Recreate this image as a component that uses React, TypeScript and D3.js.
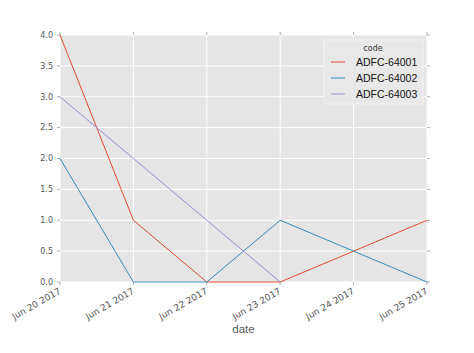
import { useEffect, useRef } from "react";
import * as d3 from "d3";

const dates = ["2017-06-20", "2017-06-21", "2017-06-22", "2017-06-23", "2017-06-24", "2017-06-25"];
const codes = ["ADFC-64001", "ADFC-64002", "ADFC-64003"];
const colors = ["#E24A33", "#348ABD", "#988ED5"];

// [date, value] per code
const series64001: [string, number][] = [
  ["2017-06-20", 4],
  ["2017-06-21", 1],
  ["2017-06-22", 0],
  ["2017-06-23", 0],
  ["2017-06-25", 1],
];
const series64002: [string, number][] = [
  ["2017-06-20", 2],
  ["2017-06-21", 0],
  ["2017-06-22", 0],
  ["2017-06-23", 1],
  ["2017-06-25", 0],
];
const series64003: [string, number][] = [
  ["2017-06-20", 3],
  ["2017-06-23", 0],
];
const yTicks = [0, 0.5, 1, 1.5, 2, 2.5, 3, 3.5, 4];

const width = 474;
const height = 353;
const marginTop = 35;
const marginRight = 47;
const marginBottom = 71;
const marginLeft = 60;

export default function App() {
  const ref = useRef<SVGSVGElement>(null);

  useEffect(() => {
    if (!ref.current) return;
    const svg = d3.select(ref.current);
    svg.selectAll("*").remove();

    const parse = d3.timeParse("%Y-%m-%d");
    const x = d3
      .scaleTime()
      .domain([parse(dates[0])!, parse(dates[dates.length - 1])!])
      .range([marginLeft, width - marginRight]);
    const y = d3
      .scaleLinear()
      .domain([0, 4])
      .range([height - marginBottom, marginTop]);

    const x0 = marginLeft;
    const x1 = width - marginRight;
    const y0 = height - marginBottom;
    const y1 = marginTop;

    svg.append("rect").attr("x", x0).attr("y", y1).attr("width", x1 - x0).attr("height", y0 - y1).attr("fill", "#e5e5e5");

    // grid
    const grid = svg.append("g").attr("stroke", "#ffffff").attr("stroke-width", 1);
    dates.forEach((d) => {
      const px = x(parse(d)!);
      grid.append("line").attr("x1", px).attr("x2", px).attr("y1", y1).attr("y2", y0);
    });
    yTicks.forEach((t) => {
      grid.append("line").attr("x1", x0).attr("x2", x1).attr("y1", y(t)).attr("y2", y(t));
    });

    // tick marks on all sides
    const ticks = svg.append("g").attr("stroke", "#999").attr("stroke-width", 0.8);
    dates.forEach((d) => {
      const px = x(parse(d)!);
      ticks.append("line").attr("x1", px).attr("x2", px).attr("y1", y0).attr("y2", y0 + 3);
      ticks.append("line").attr("x1", px).attr("x2", px).attr("y1", y1).attr("y2", y1 - 3);
    });
    yTicks.forEach((t) => {
      ticks.append("line").attr("x1", x0 - 3).attr("x2", x0).attr("y1", y(t)).attr("y2", y(t));
      ticks.append("line").attr("x1", x1).attr("x2", x1 + 3).attr("y1", y(t)).attr("y2", y(t));
    });

    // y labels
    svg
      .append("g")
      .selectAll("text")
      .data(yTicks)
      .join("text")
      .attr("x", x0 - 7)
      .attr("y", (t) => y(t))
      .attr("dy", "0.35em")
      .attr("text-anchor", "end")
      .attr("font-family", "DejaVu Sans")
      .attr("font-size", 8)
      .attr("fill", "#555")
      .text((t) => d3.format(".1f")(t));

    // x labels
    const fmt = d3.timeFormat("%b %d %Y");
    svg
      .append("g")
      .selectAll("text")
      .data(dates)
      .join("text")
      .attr("transform", (d) => `translate(${x(parse(d)!) - 2},${y0 + 5}) rotate(-30)`)
      .attr("text-anchor", "end")
      .attr("dy", "0.75em")
      .attr("font-family", "DejaVu Sans")
      .attr("font-size", 9)
      .attr("fill", "#555")
      .text((d) => fmt(parse(d)!));

    svg
      .append("text")
      .attr("x", (x0 + x1) / 2)
      .attr("y", 333)
      .attr("text-anchor", "middle")
      .attr("font-family", "Liberation Sans")
      .attr("font-size", 11.5)
      .attr("fill", "#555")
      .text("date");

    // lines
    const line = d3
      .line<[string, number]>()
      .x((d) => x(parse(d[0])!))
      .y((d) => y(d[1]));
    [series64001, series64002, series64003].forEach((s, i) => {
      svg
        .append("path")
        .attr("fill", "none")
        .attr("stroke", colors[i])
        .attr("stroke-width", 1)
        .attr("d", line(s));
    });

    // legend
    const lg = svg.append("g");
    lg.append("rect")
      .attr("x", 324)
      .attr("y", 40)
      .attr("width", 99)
      .attr("height", 64)
      .attr("fill", "#e8e8e8")
      .attr("stroke", "#f2f2f2");
    lg.append("text")
      .attr("x", 373)
      .attr("y", 51)
      .attr("text-anchor", "middle")
      .attr("font-family", "DejaVu Sans")
      .attr("font-size", 8)
      .attr("fill", "#333")
      .text("code");
    codes.forEach((c, i) => {
      const cy = 62 + i * 16;
      lg.append("line")
        .attr("x1", 331)
        .attr("x2", 345)
        .attr("y1", cy)
        .attr("y2", cy)
        .attr("stroke", colors[i])
        .attr("stroke-width", 1);
      lg.append("text")
        .attr("x", 356)
        .attr("y", cy)
        .attr("dy", "0.35em")
        .attr("font-family", "Liberation Sans")
        .attr("font-size", 10.5)
        .attr("fill", "#111")
        .text(c);
    });
  }, []);

  return (
    <svg
      ref={ref}
      width={width}
      height={height}
      style={{ position: "absolute", left: 0, top: 0, background: "#fff" }}
    />
  );
}
